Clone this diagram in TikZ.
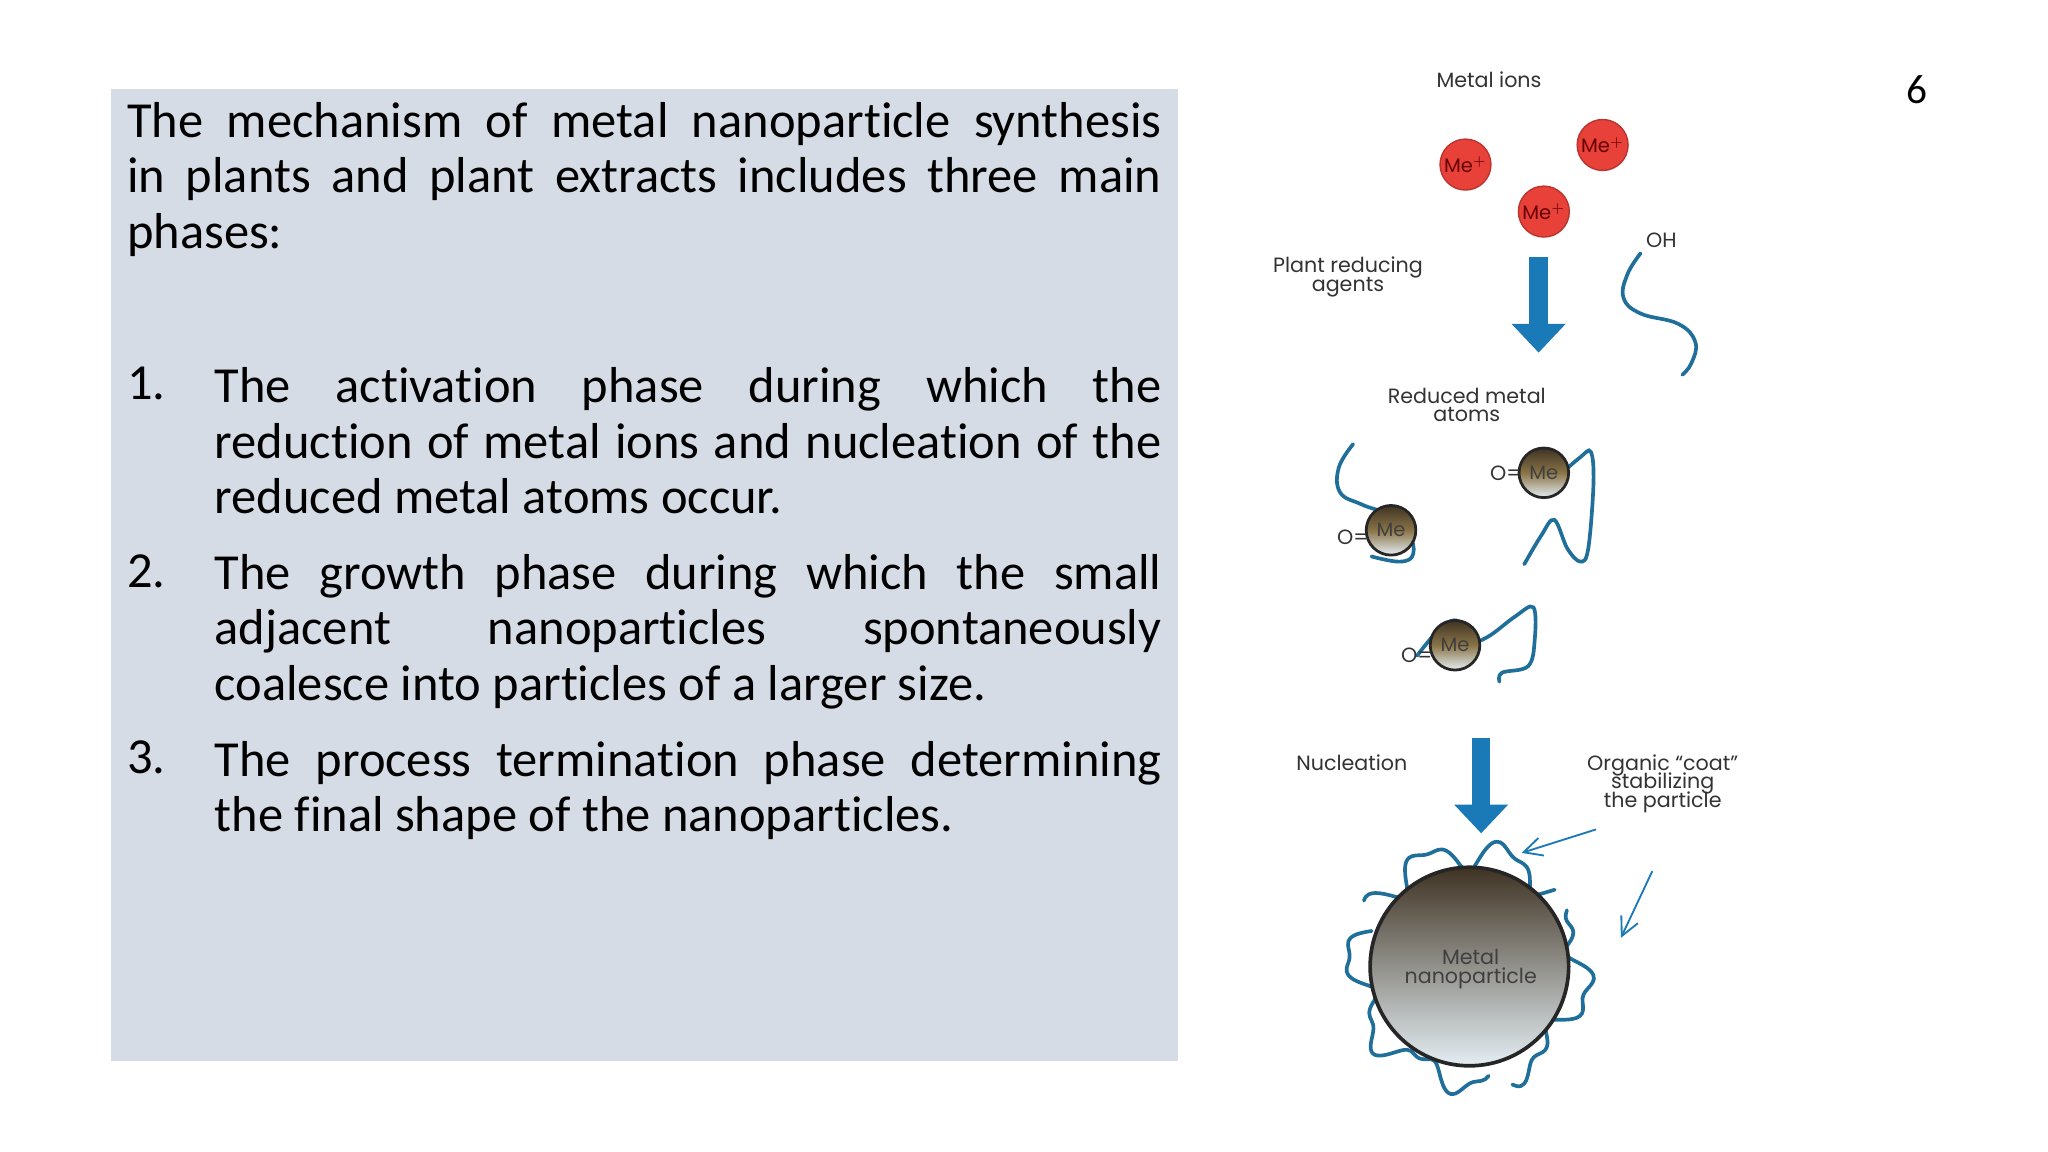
\documentclass[tikz,border=0pt]{standalone}
\usepackage{fontspec}
\setmainfont{Carlito}[RawFeature=-liga]
\newfontfamily\diagfont{Poppins}
\usetikzlibrary{arrows.meta}
\newcommand\mynohyph{\hyphenpenalty=10000 \exhyphenpenalty=10000\relax}
\definecolor{panel}{HTML}{D6DCE5}
\definecolor{strand}{HTML}{1F6F9A}
\definecolor{bigarrow}{HTML}{1A7AB8}
\definecolor{ionred}{HTML}{E8413A}
\definecolor{lbl}{HTML}{333333}
\definecolor{brtop}{HTML}{3F3323}
\definecolor{brmid}{HTML}{8A7447}
\definecolor{brbot}{HTML}{E4EEF3}
\tikzset{
  maintext/.style={inner sep=0pt, font=\fontsize{22}{24.2}\selectfont\mynohyph},
  lab/.style={font=\diagfont\fontsize{9}{10}\selectfont, text=lbl, align=center, inner sep=1pt},
  ion/.style={circle, minimum size=39*0.02cm, inner sep=0pt, fill=ionred, draw=ionred!80!black, line width=0.6pt, font=\diagfont\fontsize{8.5}{9}\selectfont, text=red!40!black},
  atom/.style={circle, minimum size=38*0.02cm, inner sep=0pt, draw=black!85, line width=1.2pt, top color=brtop, bottom color=brbot, middle color=brmid, font=\diagfont\fontsize{8.5}{9}\selectfont, text=black!75},
  strandline/.style={draw=strand, line width=1.6pt, line cap=round},
  fatarrow/.style={draw=bigarrow, line width=14*0.02cm, -{Triangle[width=40*0.02cm,length=22*0.02cm]}},
  thinarrow/.style={draw=bigarrow, line width=0.8pt, -{Straight Barb[length=8pt,width=8pt]}},
  olab/.style={font=\diagfont\fontsize{9}{10}\selectfont, text=lbl, inner sep=0pt}
}
\begin{document}
\begin{tikzpicture}[x=0.02cm,y=-0.02cm]
\useasboundingbox (0,0) rectangle (1568,882);
\fill[white] (0,0) rectangle (1568,882);
\fill[panel] (85,68) rectangle (902,812);
\node[maintext, anchor=north west, text width=792*0.02cm, align=justify] (intro) at (97,78)
 {The mechanism of metal nanoparticle synthesis in plants and plant extracts includes three main phases:};
\node[maintext, anchor=north west] (n1) at (97,281) {1.};
\node[maintext, anchor=north west, text width=725*0.02cm, align=justify] (t1) at (164,281)
 {The activation phase during which the reduction of metal ions and nucleation of the reduced metal atoms occur.};
\node[maintext, anchor=north west] (n2) at (97,424) {2.};
\node[maintext, anchor=north west, text width=725*0.02cm, align=justify] (t2) at (164,424)
 {The growth phase during which the small adjacent nanoparticles spontaneously coalesce into particles of a larger size.};
\node[maintext, anchor=north west] (n3) at (97,567) {3.};
\node[maintext, anchor=north west, text width=725*0.02cm, align=justify] (t3) at (164,567)
 {The process termination phase determining the final shape of the nanoparticles.};
\node[font=\fontsize{18}{20}\selectfont, inner sep=0pt] (pg) at (1468,69) {6};

% diagram
\node[lab] (mions) at (1140,61) {Metal ions};
\node[ion] (i1) at (1122,126) {Me$^{+}$};
\node[ion] (i2) at (1227,111) {Me$^{+}$};
\node[ion] (i3) at (1182,162) {Me$^{+}$};
\node[lab] (pra) at (1032,212) {Plant reducing\\[-2pt]agents};
\coordinate (a1s) at (1178,197);
\coordinate (a1e) at (1178,270);
\draw[fatarrow] (a1s) -- (a1e);
\node[olab] (oh) at (1272,184) {OH};
\draw[strandline] plot[smooth, tension=0.7] coordinates {(1256,194)(1246,210)(1243,228)(1256,240)(1285,248)(1298,262)(1295,278)(1288,287)};
\node[lab] (rma) at (1123,310) {Reduced metal\\[-2pt]atoms};

% atom 1
\draw[strandline] plot[smooth, tension=0.7] coordinates {(1036,340)(1025,358)(1026,377)(1042,386)(1062,394)(1078,408)(1082,424)(1072,430)(1050,426)};
\node[atom] (m1) at (1065,406) {Me};
\node[olab, anchor=east] (o1) at (1048,411) {O=};
% atom 2
\draw[strandline] plot[smooth, tension=0.6] coordinates {(1196,362)(1210,350)(1218,346)(1220,370)(1216,420)(1210,430)(1200,420)(1190,398)(1180,410)(1167,432)};
\node[atom] (m2) at (1182,362) {Me};
\node[olab, anchor=east] (o2) at (1165,362) {O=};
% atom 3
\draw[strandline] plot[smooth, tension=0.6] coordinates {(1085,502)(1100,484)(1115,475)(1128,490)(1140,487)(1160,472)(1174,465)(1175,490)(1170,510)(1150,515)(1148,522)};
\node[atom] (m3) at (1114,494) {Me};
\node[olab, anchor=east] (o3) at (1097,502) {O=};

\node[lab] (nuc) at (1035,584) {Nucleation};
\coordinate (a2s) at (1134,565);
\coordinate (a2e) at (1134,638);
\draw[fatarrow] (a2s) -- (a2e);
\node[lab] (coat) at (1273,600) {Organic “coat”\\[-2pt]stabilizing\\[-2pt]the particle};
\coordinate (c1s) at (1222,635);
\coordinate (c1e) at (1165,653);
\coordinate (c2s) at (1265,667);
\coordinate (c2e) at (1241,718);
\draw[thinarrow] (c1s) -- (c1e);
\draw[thinarrow] (c2s) -- (c2e);

% coat strands
\draw[strandline] plot[smooth, samples=60, domain=-30:70, variable=\t] ({1125+(86+9*sin(7*\t)+5*sin(17*\t+30))*cos(\t)},{740+(86+9*sin(7*\t)+5*sin(17*\t+30))*sin(\t)});
\draw[strandline] plot[smooth, samples=60, domain=80:200, variable=\t] ({1125+(86+10*sin(8*\t+50)+4*sin(19*\t))*cos(\t)},{740+(86+10*sin(8*\t+50)+4*sin(19*\t))*sin(\t)});
\draw[strandline] plot[smooth, samples=60, domain=212:318, variable=\t] ({1125+(87+10*sin(9*\t+20)+5*sin(17*\t))*cos(\t)},{740+(87+10*sin(9*\t+20)+5*sin(17*\t))*sin(\t)});
\node[circle, minimum size=152*0.02cm, inner sep=0pt, draw=black!85, line width=1.6pt, top color=brtop, middle color=brmid, bottom color=brbot] (np) at (1125,740) {};
\node[lab, text=black!75] (nplab) at (1126,742) {Metal\\[-2pt]nanoparticle};
\end{tikzpicture}
\end{document}
